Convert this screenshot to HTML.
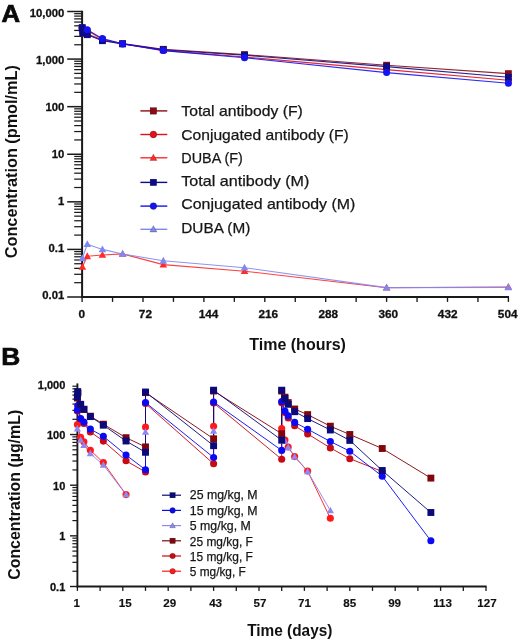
<!DOCTYPE html>
<html lang="en"><head><meta charset="utf-8"><title>Figure</title>
<style>html,body{margin:0;padding:0;background:#fff}body{width:520px;height:643px;overflow:hidden}svg{display:block}</style>
</head><body>
<svg width="520" height="643" viewBox="0 0 520 643">
<rect width="520" height="643" fill="#ffffff"/>
<g stroke="#1a1a1a" stroke-linecap="butt" fill="none">
<line x1="82.1" y1="10.8" x2="82.1" y2="297.9" stroke-width="2"/>
<line x1="81.3" y1="297.0" x2="509.00" y2="297.0" stroke-width="1.9"/>
<line x1="67.2" y1="11.50" x2="82.1" y2="11.50" stroke-width="1.5"/>
<line x1="74.2" y1="44.76" x2="82.1" y2="44.76" stroke-width="1.25"/>
<line x1="74.2" y1="36.38" x2="82.1" y2="36.38" stroke-width="1.25"/>
<line x1="74.2" y1="30.44" x2="82.1" y2="30.44" stroke-width="1.25"/>
<line x1="74.2" y1="25.82" x2="82.1" y2="25.82" stroke-width="1.25"/>
<line x1="74.2" y1="22.06" x2="82.1" y2="22.06" stroke-width="1.25"/>
<line x1="74.2" y1="18.87" x2="82.1" y2="18.87" stroke-width="1.25"/>
<line x1="74.2" y1="16.11" x2="82.1" y2="16.11" stroke-width="1.25"/>
<line x1="74.2" y1="13.68" x2="82.1" y2="13.68" stroke-width="1.25"/>
<line x1="67.2" y1="59.08" x2="82.1" y2="59.08" stroke-width="1.5"/>
<line x1="74.2" y1="92.34" x2="82.1" y2="92.34" stroke-width="1.25"/>
<line x1="74.2" y1="83.96" x2="82.1" y2="83.96" stroke-width="1.25"/>
<line x1="74.2" y1="78.02" x2="82.1" y2="78.02" stroke-width="1.25"/>
<line x1="74.2" y1="73.41" x2="82.1" y2="73.41" stroke-width="1.25"/>
<line x1="74.2" y1="69.64" x2="82.1" y2="69.64" stroke-width="1.25"/>
<line x1="74.2" y1="66.45" x2="82.1" y2="66.45" stroke-width="1.25"/>
<line x1="74.2" y1="63.69" x2="82.1" y2="63.69" stroke-width="1.25"/>
<line x1="74.2" y1="61.26" x2="82.1" y2="61.26" stroke-width="1.25"/>
<line x1="67.2" y1="106.67" x2="82.1" y2="106.67" stroke-width="1.5"/>
<line x1="74.2" y1="139.93" x2="82.1" y2="139.93" stroke-width="1.25"/>
<line x1="74.2" y1="131.55" x2="82.1" y2="131.55" stroke-width="1.25"/>
<line x1="74.2" y1="125.60" x2="82.1" y2="125.60" stroke-width="1.25"/>
<line x1="74.2" y1="120.99" x2="82.1" y2="120.99" stroke-width="1.25"/>
<line x1="74.2" y1="117.22" x2="82.1" y2="117.22" stroke-width="1.25"/>
<line x1="74.2" y1="114.04" x2="82.1" y2="114.04" stroke-width="1.25"/>
<line x1="74.2" y1="111.28" x2="82.1" y2="111.28" stroke-width="1.25"/>
<line x1="74.2" y1="108.84" x2="82.1" y2="108.84" stroke-width="1.25"/>
<line x1="67.2" y1="154.25" x2="82.1" y2="154.25" stroke-width="1.5"/>
<line x1="74.2" y1="187.51" x2="82.1" y2="187.51" stroke-width="1.25"/>
<line x1="74.2" y1="179.13" x2="82.1" y2="179.13" stroke-width="1.25"/>
<line x1="74.2" y1="173.19" x2="82.1" y2="173.19" stroke-width="1.25"/>
<line x1="74.2" y1="168.57" x2="82.1" y2="168.57" stroke-width="1.25"/>
<line x1="74.2" y1="164.81" x2="82.1" y2="164.81" stroke-width="1.25"/>
<line x1="74.2" y1="161.62" x2="82.1" y2="161.62" stroke-width="1.25"/>
<line x1="74.2" y1="158.86" x2="82.1" y2="158.86" stroke-width="1.25"/>
<line x1="74.2" y1="156.43" x2="82.1" y2="156.43" stroke-width="1.25"/>
<line x1="67.2" y1="201.83" x2="82.1" y2="201.83" stroke-width="1.5"/>
<line x1="74.2" y1="235.09" x2="82.1" y2="235.09" stroke-width="1.25"/>
<line x1="74.2" y1="226.71" x2="82.1" y2="226.71" stroke-width="1.25"/>
<line x1="74.2" y1="220.77" x2="82.1" y2="220.77" stroke-width="1.25"/>
<line x1="74.2" y1="216.16" x2="82.1" y2="216.16" stroke-width="1.25"/>
<line x1="74.2" y1="212.39" x2="82.1" y2="212.39" stroke-width="1.25"/>
<line x1="74.2" y1="209.20" x2="82.1" y2="209.20" stroke-width="1.25"/>
<line x1="74.2" y1="206.44" x2="82.1" y2="206.44" stroke-width="1.25"/>
<line x1="74.2" y1="204.01" x2="82.1" y2="204.01" stroke-width="1.25"/>
<line x1="67.2" y1="249.42" x2="82.1" y2="249.42" stroke-width="1.5"/>
<line x1="74.2" y1="282.68" x2="82.1" y2="282.68" stroke-width="1.25"/>
<line x1="74.2" y1="274.30" x2="82.1" y2="274.30" stroke-width="1.25"/>
<line x1="74.2" y1="268.35" x2="82.1" y2="268.35" stroke-width="1.25"/>
<line x1="74.2" y1="263.74" x2="82.1" y2="263.74" stroke-width="1.25"/>
<line x1="74.2" y1="259.97" x2="82.1" y2="259.97" stroke-width="1.25"/>
<line x1="74.2" y1="256.79" x2="82.1" y2="256.79" stroke-width="1.25"/>
<line x1="74.2" y1="254.03" x2="82.1" y2="254.03" stroke-width="1.25"/>
<line x1="74.2" y1="251.59" x2="82.1" y2="251.59" stroke-width="1.25"/>
<line x1="67.2" y1="297.00" x2="82.1" y2="297.00" stroke-width="1.5"/>
<line x1="82.10" y1="297.0" x2="82.10" y2="301.90" stroke-width="1.35"/>
<line x1="112.55" y1="297.0" x2="112.55" y2="301.90" stroke-width="1.35"/>
<line x1="143.00" y1="297.0" x2="143.00" y2="301.90" stroke-width="1.35"/>
<line x1="173.45" y1="297.0" x2="173.45" y2="301.90" stroke-width="1.35"/>
<line x1="203.90" y1="297.0" x2="203.90" y2="301.90" stroke-width="1.35"/>
<line x1="234.35" y1="297.0" x2="234.35" y2="301.90" stroke-width="1.35"/>
<line x1="264.80" y1="297.0" x2="264.80" y2="301.90" stroke-width="1.35"/>
<line x1="295.25" y1="297.0" x2="295.25" y2="301.90" stroke-width="1.35"/>
<line x1="325.70" y1="297.0" x2="325.70" y2="301.90" stroke-width="1.35"/>
<line x1="356.15" y1="297.0" x2="356.15" y2="301.90" stroke-width="1.35"/>
<line x1="386.60" y1="297.0" x2="386.60" y2="301.90" stroke-width="1.35"/>
<line x1="417.05" y1="297.0" x2="417.05" y2="301.90" stroke-width="1.35"/>
<line x1="447.50" y1="297.0" x2="447.50" y2="301.90" stroke-width="1.35"/>
<line x1="477.95" y1="297.0" x2="477.95" y2="301.90" stroke-width="1.35"/>
<line x1="508.40" y1="297.0" x2="508.40" y2="301.90" stroke-width="1.35"/>
</g>
<g font-family='"Liberation Sans", Arial, Helvetica, sans-serif' font-weight="700" font-size="11.3" fill="#111" stroke="#111" stroke-width="0.3">
<text x="64.3" y="16.90" text-anchor="end">10,000</text>
<text x="64.3" y="63.97" text-anchor="end">1,000</text>
<text x="64.3" y="111.04" text-anchor="end">100</text>
<text x="64.3" y="158.11" text-anchor="end">10</text>
<text x="64.3" y="205.18" text-anchor="end">1</text>
<text x="64.3" y="252.25" text-anchor="end">0.1</text>
<text x="64.3" y="299.32" text-anchor="end">0.01</text>
<text x="81.90" y="317.8" text-anchor="middle" font-size="11.8">0</text>
<text x="145.40" y="317.8" text-anchor="middle" font-size="11.8">72</text>
<text x="208.50" y="317.8" text-anchor="middle" font-size="11.8">144</text>
<text x="268.30" y="317.8" text-anchor="middle" font-size="11.8">216</text>
<text x="328.30" y="317.8" text-anchor="middle" font-size="11.8">288</text>
<text x="388.30" y="317.8" text-anchor="middle" font-size="11.8">360</text>
<text x="447.70" y="317.8" text-anchor="middle" font-size="11.8">432</text>
<text x="507.70" y="317.8" text-anchor="middle" font-size="11.8">504</text>
</g>
<polyline points="82.20,28.20 82.90,33.20 87.30,34.00 102.40,40.00 122.60,43.60 163.30,49.30 244.50,54.60 386.60,65.20 508.40,73.60" fill="none" stroke="#8B0A14" stroke-width="1.1" stroke-linejoin="round" stroke-opacity="0.9"/>
<polyline points="82.20,28.00 82.90,32.00 87.30,30.50 102.40,39.20 122.60,44.00 163.30,50.40 244.50,57.00 386.60,69.60 508.40,80.20" fill="none" stroke="#E0101C" stroke-width="1.1" stroke-linejoin="round" stroke-opacity="0.9"/>
<polyline points="82.40,267.00 87.30,256.30 102.40,255.00 122.60,253.90 163.30,264.60 244.50,271.20 386.60,287.70 508.40,287.00" fill="none" stroke="#FF2A2A" stroke-width="1.1" stroke-linejoin="round" stroke-opacity="0.9"/>
<polyline points="82.20,27.60 82.90,33.00 87.30,34.70 102.40,40.70 122.60,43.90 163.30,49.70 244.50,55.20 386.60,66.60 508.40,77.20" fill="none" stroke="#0C0C88" stroke-width="1.1" stroke-linejoin="round" stroke-opacity="0.9"/>
<polyline points="82.20,27.80 82.90,31.60 87.30,29.70 102.40,38.60 122.60,43.80 163.30,50.60 244.50,57.70 386.60,72.60 508.40,83.20" fill="none" stroke="#1414F0" stroke-width="1.1" stroke-linejoin="round" stroke-opacity="0.9"/>
<polyline points="82.40,258.30 87.30,244.20 102.40,249.40 122.60,254.00 163.30,260.80 244.50,267.70 386.60,287.60 508.40,287.40" fill="none" stroke="#8088F0" stroke-width="1.1" stroke-linejoin="round" stroke-opacity="0.9"/>
<circle cx="82.20" cy="28.00" r="3.5" fill="#E0101C"/>
<circle cx="82.90" cy="32.00" r="3.5" fill="#E0101C"/>
<rect x="78.80" y="24.80" width="6.8" height="6.8" fill="#8B0A14"/>
<rect x="79.50" y="29.80" width="6.8" height="6.8" fill="#8B0A14"/>
<circle cx="82.20" cy="27.80" r="3.5" fill="#1414F0"/>
<circle cx="82.90" cy="31.60" r="3.5" fill="#1414F0"/>
<rect x="78.80" y="24.20" width="6.8" height="6.8" fill="#0C0C88"/>
<rect x="79.50" y="29.60" width="6.8" height="6.8" fill="#0C0C88"/>
<rect x="83.90" y="30.60" width="6.8" height="6.8" fill="#8B0A14"/>
<rect x="99.00" y="36.60" width="6.8" height="6.8" fill="#8B0A14"/>
<rect x="119.20" y="40.20" width="6.8" height="6.8" fill="#8B0A14"/>
<rect x="159.90" y="45.90" width="6.8" height="6.8" fill="#8B0A14"/>
<rect x="241.10" y="51.20" width="6.8" height="6.8" fill="#8B0A14"/>
<rect x="383.20" y="61.80" width="6.8" height="6.8" fill="#8B0A14"/>
<rect x="505.00" y="70.20" width="6.8" height="6.8" fill="#8B0A14"/>
<circle cx="87.30" cy="30.50" r="3.5" fill="#E0101C"/>
<circle cx="102.40" cy="39.20" r="3.5" fill="#E0101C"/>
<circle cx="122.60" cy="44.00" r="3.5" fill="#E0101C"/>
<circle cx="163.30" cy="50.40" r="3.5" fill="#E0101C"/>
<circle cx="244.50" cy="57.00" r="3.5" fill="#E0101C"/>
<circle cx="386.60" cy="69.60" r="3.5" fill="#E0101C"/>
<circle cx="508.40" cy="80.20" r="3.5" fill="#E0101C"/>
<path d="M82.40 263.03 L86.20 269.87 L78.60 269.87 Z" fill="#FF2A2A"/>
<path d="M87.30 252.33 L91.10 259.17 L83.50 259.17 Z" fill="#FF2A2A"/>
<path d="M102.40 251.03 L106.20 257.87 L98.60 257.87 Z" fill="#FF2A2A"/>
<path d="M122.60 249.93 L126.40 256.77 L118.80 256.77 Z" fill="#FF2A2A"/>
<path d="M163.30 260.63 L167.10 267.47 L159.50 267.47 Z" fill="#FF2A2A"/>
<path d="M244.50 267.23 L248.30 274.07 L240.70 274.07 Z" fill="#FF2A2A"/>
<path d="M386.60 283.73 L390.40 290.57 L382.80 290.57 Z" fill="#FF2A2A"/>
<path d="M508.40 283.03 L512.20 289.87 L504.60 289.87 Z" fill="#FF2A2A"/>
<rect x="83.90" y="31.30" width="6.8" height="6.8" fill="#0C0C88"/>
<rect x="99.00" y="37.30" width="6.8" height="6.8" fill="#0C0C88"/>
<rect x="119.20" y="40.50" width="6.8" height="6.8" fill="#0C0C88"/>
<rect x="159.90" y="46.30" width="6.8" height="6.8" fill="#0C0C88"/>
<rect x="241.10" y="51.80" width="6.8" height="6.8" fill="#0C0C88"/>
<rect x="383.20" y="63.20" width="6.8" height="6.8" fill="#0C0C88"/>
<rect x="505.00" y="73.80" width="6.8" height="6.8" fill="#0C0C88"/>
<circle cx="87.30" cy="29.70" r="3.5" fill="#1414F0"/>
<circle cx="102.40" cy="38.60" r="3.5" fill="#1414F0"/>
<circle cx="122.60" cy="43.80" r="3.5" fill="#1414F0"/>
<circle cx="163.30" cy="50.60" r="3.5" fill="#1414F0"/>
<circle cx="244.50" cy="57.70" r="3.5" fill="#1414F0"/>
<circle cx="386.60" cy="72.60" r="3.5" fill="#1414F0"/>
<circle cx="508.40" cy="83.20" r="3.5" fill="#1414F0"/>
<path d="M82.40 254.33 L86.20 261.17 L78.60 261.17 Z" fill="#8088F0"/>
<path d="M87.30 240.23 L91.10 247.07 L83.50 247.07 Z" fill="#8088F0"/>
<path d="M102.40 245.43 L106.20 252.27 L98.60 252.27 Z" fill="#8088F0"/>
<path d="M122.60 250.03 L126.40 256.87 L118.80 256.87 Z" fill="#8088F0"/>
<path d="M163.30 256.83 L167.10 263.67 L159.50 263.67 Z" fill="#8088F0"/>
<path d="M244.50 263.73 L248.30 270.57 L240.70 270.57 Z" fill="#8088F0"/>
<path d="M386.60 283.63 L390.40 290.47 L382.80 290.47 Z" fill="#8088F0"/>
<path d="M508.40 283.43 L512.20 290.27 L504.60 290.27 Z" fill="#8088F0"/>
<g font-family='"Liberation Sans", Arial, Helvetica, sans-serif' font-size="15" fill="#161616" stroke="#161616" stroke-width="0.25">
<line x1="140.4" y1="110.90" x2="167.3" y2="110.90" stroke="#8B0A14" stroke-width="1.4"/>
<rect x="150.10" y="107.60" width="6.6" height="6.6" fill="#8B0A14"/>
<text x="181.3" y="116.30" textLength="121.5" lengthAdjust="spacingAndGlyphs">Total antibody (F)</text>
<line x1="140.4" y1="134.50" x2="167.3" y2="134.50" stroke="#E0101C" stroke-width="1.4"/>
<circle cx="153.40" cy="134.50" r="3.4" fill="#E0101C"/>
<text x="181.3" y="139.80" textLength="167.5" lengthAdjust="spacingAndGlyphs">Conjugated antibody (F)</text>
<line x1="140.4" y1="157.80" x2="167.3" y2="157.80" stroke="#FF2A2A" stroke-width="1.4"/>
<path d="M153.40 154.15 L156.90 160.45 L149.90 160.45 Z" fill="#FF2A2A"/>
<text x="181.3" y="162.90" textLength="61.5" lengthAdjust="spacingAndGlyphs">DUBA (F)</text>
<line x1="140.4" y1="182.40" x2="167.3" y2="182.40" stroke="#0C0C88" stroke-width="1.4"/>
<rect x="150.10" y="179.10" width="6.6" height="6.6" fill="#0C0C88"/>
<text x="181.3" y="185.70" textLength="128" lengthAdjust="spacingAndGlyphs">Total antibody (M)</text>
<line x1="140.4" y1="206.10" x2="167.3" y2="206.10" stroke="#1414F0" stroke-width="1.4"/>
<circle cx="153.40" cy="206.10" r="3.4" fill="#1414F0"/>
<text x="181.3" y="208.80" textLength="174" lengthAdjust="spacingAndGlyphs">Conjugated antibody (M)</text>
<line x1="140.4" y1="229.30" x2="167.3" y2="229.30" stroke="#8088F0" stroke-width="1.4"/>
<path d="M153.40 225.65 L156.90 231.95 L149.90 231.95 Z" fill="#8088F0"/>
<text x="181.3" y="232.50" textLength="69" lengthAdjust="spacingAndGlyphs">DUBA (M)</text>
</g>
<g font-family='"Liberation Sans", Arial, Helvetica, sans-serif' font-weight="700" font-size="16" fill="#111">
<text transform="translate(16.8 258.2) rotate(-90)" textLength="193" lengthAdjust="spacingAndGlyphs">Concentration (pmol/mL)</text>
<text x="249.3" y="350" textLength="96.6" lengthAdjust="spacingAndGlyphs">Time (hours)</text>
</g>
<text x="1.4" y="21.7" font-family='"Liberation Sans", Arial, Helvetica, sans-serif' font-weight="700" font-size="23" fill="#0a0a0a" stroke="#0a0a0a" stroke-width="0.7" textLength="18.6" lengthAdjust="spacingAndGlyphs">A</text>
<text x="1.2" y="364.9" font-family='"Liberation Sans", Arial, Helvetica, sans-serif' font-weight="700" font-size="24" fill="#0a0a0a" stroke="#0a0a0a" stroke-width="0.7" textLength="19" lengthAdjust="spacingAndGlyphs">B</text>
<g stroke="#1a1a1a" stroke-linecap="butt" fill="none">
<line x1="77.4" y1="383.4" x2="77.4" y2="587.35" stroke-width="1.9"/>
<line x1="76.7" y1="586.5" x2="486.60" y2="586.5" stroke-width="1.8"/>
<line x1="72.4" y1="419.30" x2="77.4" y2="419.30" stroke-width="1.2"/>
<line x1="72.4" y1="410.38" x2="77.4" y2="410.38" stroke-width="1.2"/>
<line x1="72.4" y1="404.06" x2="77.4" y2="404.06" stroke-width="1.2"/>
<line x1="72.4" y1="399.15" x2="77.4" y2="399.15" stroke-width="1.2"/>
<line x1="72.4" y1="395.14" x2="77.4" y2="395.14" stroke-width="1.2"/>
<line x1="72.4" y1="391.75" x2="77.4" y2="391.75" stroke-width="1.2"/>
<line x1="72.4" y1="388.81" x2="77.4" y2="388.81" stroke-width="1.2"/>
<line x1="72.4" y1="386.22" x2="77.4" y2="386.22" stroke-width="1.2"/>
<line x1="70" y1="434.55" x2="77.4" y2="434.55" stroke-width="1.4"/>
<line x1="72.4" y1="469.95" x2="77.4" y2="469.95" stroke-width="1.2"/>
<line x1="72.4" y1="461.03" x2="77.4" y2="461.03" stroke-width="1.2"/>
<line x1="72.4" y1="454.71" x2="77.4" y2="454.71" stroke-width="1.2"/>
<line x1="72.4" y1="449.80" x2="77.4" y2="449.80" stroke-width="1.2"/>
<line x1="72.4" y1="445.79" x2="77.4" y2="445.79" stroke-width="1.2"/>
<line x1="72.4" y1="442.40" x2="77.4" y2="442.40" stroke-width="1.2"/>
<line x1="72.4" y1="439.46" x2="77.4" y2="439.46" stroke-width="1.2"/>
<line x1="72.4" y1="436.87" x2="77.4" y2="436.87" stroke-width="1.2"/>
<line x1="70" y1="485.20" x2="77.4" y2="485.20" stroke-width="1.4"/>
<line x1="72.4" y1="520.60" x2="77.4" y2="520.60" stroke-width="1.2"/>
<line x1="72.4" y1="511.68" x2="77.4" y2="511.68" stroke-width="1.2"/>
<line x1="72.4" y1="505.36" x2="77.4" y2="505.36" stroke-width="1.2"/>
<line x1="72.4" y1="500.45" x2="77.4" y2="500.45" stroke-width="1.2"/>
<line x1="72.4" y1="496.44" x2="77.4" y2="496.44" stroke-width="1.2"/>
<line x1="72.4" y1="493.05" x2="77.4" y2="493.05" stroke-width="1.2"/>
<line x1="72.4" y1="490.11" x2="77.4" y2="490.11" stroke-width="1.2"/>
<line x1="72.4" y1="487.52" x2="77.4" y2="487.52" stroke-width="1.2"/>
<line x1="70" y1="535.85" x2="77.4" y2="535.85" stroke-width="1.4"/>
<line x1="72.4" y1="571.25" x2="77.4" y2="571.25" stroke-width="1.2"/>
<line x1="72.4" y1="562.33" x2="77.4" y2="562.33" stroke-width="1.2"/>
<line x1="72.4" y1="556.01" x2="77.4" y2="556.01" stroke-width="1.2"/>
<line x1="72.4" y1="551.10" x2="77.4" y2="551.10" stroke-width="1.2"/>
<line x1="72.4" y1="547.09" x2="77.4" y2="547.09" stroke-width="1.2"/>
<line x1="72.4" y1="543.70" x2="77.4" y2="543.70" stroke-width="1.2"/>
<line x1="72.4" y1="540.76" x2="77.4" y2="540.76" stroke-width="1.2"/>
<line x1="72.4" y1="538.17" x2="77.4" y2="538.17" stroke-width="1.2"/>
<line x1="70" y1="586.50" x2="77.4" y2="586.50" stroke-width="1.4"/>
<line x1="77.40" y1="586.5" x2="77.40" y2="590.90" stroke-width="1.3"/>
<line x1="100.10" y1="586.5" x2="100.10" y2="590.90" stroke-width="1.3"/>
<line x1="122.80" y1="586.5" x2="122.80" y2="590.90" stroke-width="1.3"/>
<line x1="145.50" y1="586.5" x2="145.50" y2="590.90" stroke-width="1.3"/>
<line x1="168.20" y1="586.5" x2="168.20" y2="590.90" stroke-width="1.3"/>
<line x1="190.90" y1="586.5" x2="190.90" y2="590.90" stroke-width="1.3"/>
<line x1="213.60" y1="586.5" x2="213.60" y2="590.90" stroke-width="1.3"/>
<line x1="236.30" y1="586.5" x2="236.30" y2="590.90" stroke-width="1.3"/>
<line x1="259.00" y1="586.5" x2="259.00" y2="590.90" stroke-width="1.3"/>
<line x1="281.70" y1="586.5" x2="281.70" y2="590.90" stroke-width="1.3"/>
<line x1="304.40" y1="586.5" x2="304.40" y2="590.90" stroke-width="1.3"/>
<line x1="327.10" y1="586.5" x2="327.10" y2="590.90" stroke-width="1.3"/>
<line x1="349.80" y1="586.5" x2="349.80" y2="590.90" stroke-width="1.3"/>
<line x1="372.50" y1="586.5" x2="372.50" y2="590.90" stroke-width="1.3"/>
<line x1="395.20" y1="586.5" x2="395.20" y2="590.90" stroke-width="1.3"/>
<line x1="417.90" y1="586.5" x2="417.90" y2="590.90" stroke-width="1.3"/>
<line x1="440.60" y1="586.5" x2="440.60" y2="590.90" stroke-width="1.3"/>
<line x1="463.30" y1="586.5" x2="463.30" y2="590.90" stroke-width="1.3"/>
<line x1="486.00" y1="586.5" x2="486.00" y2="590.90" stroke-width="1.3"/>
</g>
<g font-family='"Liberation Sans", Arial, Helvetica, sans-serif' font-weight="700" font-size="11" fill="#111" stroke="#111" stroke-width="0.3">
<text x="65.3" y="388.95" text-anchor="end">1,000</text>
<text x="65.3" y="439.35" text-anchor="end">100</text>
<text x="65.3" y="489.75" text-anchor="end">10</text>
<text x="65.3" y="540.15" text-anchor="end">1</text>
<text x="65.3" y="590.55" text-anchor="end">0.1</text>
<text x="76.80" y="606.7" text-anchor="middle" font-size="11.6" stroke-width="0.15">1</text>
<text x="125.20" y="606.7" text-anchor="middle" font-size="11.6" stroke-width="0.15">15</text>
<text x="169.70" y="606.7" text-anchor="middle" font-size="11.6" stroke-width="0.15">29</text>
<text x="215.60" y="606.7" text-anchor="middle" font-size="11.6" stroke-width="0.15">43</text>
<text x="260.00" y="606.7" text-anchor="middle" font-size="11.6" stroke-width="0.15">57</text>
<text x="304.40" y="606.7" text-anchor="middle" font-size="11.6" stroke-width="0.15">71</text>
<text x="349.70" y="606.7" text-anchor="middle" font-size="11.6" stroke-width="0.15">85</text>
<text x="394.60" y="606.7" text-anchor="middle" font-size="11.6" stroke-width="0.15">99</text>
<text x="442.50" y="606.7" text-anchor="middle" font-size="11.6" stroke-width="0.15">113</text>
<text x="487.00" y="606.7" text-anchor="middle" font-size="11.6" stroke-width="0.15">127</text>
</g>
<polyline points="77.40,424.50 80.64,437.40 83.89,441.80 90.37,450.20 103.34,462.60 126.04,494.60" fill="none" stroke="#FF1A1A" stroke-width="1.0" stroke-linejoin="round" stroke-opacity="0.92"/>
<polyline points="281.70,428.50 284.94,440.00 288.19,447.00 294.67,456.60 307.64,471.00 330.34,518.30" fill="none" stroke="#FF1A1A" stroke-width="1.0" stroke-linejoin="round" stroke-opacity="0.92"/>
<polyline points="77.40,428.80 80.64,440.00 83.89,445.20 90.37,453.60 103.34,465.00 126.04,494.60" fill="none" stroke="#9088F0" stroke-width="1.0" stroke-linejoin="round" stroke-opacity="0.92"/>
<polyline points="281.70,433.60 284.94,441.00 288.19,447.60 294.67,456.80 307.64,471.50 330.34,510.60" fill="none" stroke="#9088F0" stroke-width="1.0" stroke-linejoin="round" stroke-opacity="0.92"/>
<polyline points="77.40,411.00 77.89,406.50 80.64,419.00 83.89,423.50 90.37,431.90 103.34,441.10 126.04,460.80 145.50,472.00 145.50,403.50 213.60,463.80 213.60,403.00 281.70,459.30 281.70,402.80 284.94,412.50 288.19,418.00 294.67,425.80 307.64,433.90 330.34,447.90 349.80,458.70 382.23,471.50" fill="none" stroke="#C80A12" stroke-width="1.0" stroke-linejoin="round" stroke-opacity="0.92"/>
<polyline points="77.40,410.00 77.89,405.50 80.64,418.50 83.89,422.00 90.37,429.10 103.34,436.30 126.04,455.00 145.50,469.80 145.50,402.50 213.60,457.50 213.60,402.00 281.70,450.40 281.70,401.60 284.94,411.00 288.19,415.70 294.67,422.40 307.64,429.20 330.34,441.50 349.80,451.20 382.23,476.20 430.87,540.80" fill="none" stroke="#0A0AF5" stroke-width="1.0" stroke-linejoin="round" stroke-opacity="0.92"/>
<polyline points="77.40,398.00 77.89,393.00 80.64,404.80 83.89,409.50 90.37,416.20 103.34,424.20 126.04,437.70 145.50,446.90 145.50,392.60 213.60,438.80 213.60,391.00 281.70,433.70 281.70,391.00 284.94,397.20 288.19,402.60 294.67,409.00 307.64,414.60 330.34,426.20 349.80,434.50 382.23,448.50 430.87,478.10" fill="none" stroke="#80060C" stroke-width="1.0" stroke-linejoin="round" stroke-opacity="0.92"/>
<polyline points="77.40,397.00 77.72,391.60 80.64,404.30 83.89,409.20 90.37,416.60 103.34,425.20 126.04,441.00 145.50,452.30 145.50,392.00 213.60,445.70 213.60,390.20 281.70,440.20 281.70,390.20 284.94,398.50 288.19,404.30 294.67,411.70 307.64,418.60 330.34,430.00 349.80,440.40 382.23,470.50 430.87,512.50" fill="none" stroke="#0A0A7A" stroke-width="1.0" stroke-linejoin="round" stroke-opacity="0.92"/>
<circle cx="77.40" cy="424.50" r="3.55" fill="#FF1A1A"/>
<circle cx="80.64" cy="437.40" r="3.55" fill="#FF1A1A"/>
<circle cx="83.89" cy="441.80" r="3.55" fill="#FF1A1A"/>
<circle cx="90.37" cy="450.20" r="3.55" fill="#FF1A1A"/>
<circle cx="103.34" cy="462.60" r="3.55" fill="#FF1A1A"/>
<circle cx="126.04" cy="494.60" r="3.55" fill="#FF1A1A"/>
<circle cx="281.70" cy="428.50" r="3.55" fill="#FF1A1A"/>
<circle cx="284.94" cy="440.00" r="3.55" fill="#FF1A1A"/>
<circle cx="288.19" cy="447.00" r="3.55" fill="#FF1A1A"/>
<circle cx="294.67" cy="456.60" r="3.55" fill="#FF1A1A"/>
<circle cx="307.64" cy="471.00" r="3.55" fill="#FF1A1A"/>
<circle cx="330.34" cy="518.30" r="3.55" fill="#FF1A1A"/>
<circle cx="145.50" cy="427.00" r="3.55" fill="#FF1A1A"/>
<circle cx="213.60" cy="426.20" r="3.55" fill="#FF1A1A"/>
<path d="M77.40 425.04 L81.00 431.52 L73.80 431.52 Z" fill="#9088F0"/>
<path d="M80.64 436.24 L84.24 442.72 L77.04 442.72 Z" fill="#9088F0"/>
<path d="M83.89 441.44 L87.49 447.92 L80.29 447.92 Z" fill="#9088F0"/>
<path d="M90.37 449.84 L93.97 456.32 L86.77 456.32 Z" fill="#9088F0"/>
<path d="M103.34 461.24 L106.94 467.72 L99.74 467.72 Z" fill="#9088F0"/>
<path d="M126.04 490.84 L129.64 497.32 L122.44 497.32 Z" fill="#9088F0"/>
<path d="M281.70 429.84 L285.30 436.32 L278.10 436.32 Z" fill="#9088F0"/>
<path d="M284.94 437.24 L288.54 443.72 L281.34 443.72 Z" fill="#9088F0"/>
<path d="M288.19 443.84 L291.79 450.32 L284.59 450.32 Z" fill="#9088F0"/>
<path d="M294.67 453.04 L298.27 459.52 L291.07 459.52 Z" fill="#9088F0"/>
<path d="M307.64 467.74 L311.24 474.22 L304.04 474.22 Z" fill="#9088F0"/>
<path d="M330.34 506.84 L333.94 513.32 L326.74 513.32 Z" fill="#9088F0"/>
<path d="M145.50 428.24 L149.10 434.72 L141.90 434.72 Z" fill="#9088F0"/>
<path d="M213.60 427.24 L217.20 433.72 L210.00 433.72 Z" fill="#9088F0"/>
<circle cx="77.40" cy="411.00" r="3.55" fill="#C80A12"/>
<circle cx="77.89" cy="406.50" r="3.55" fill="#C80A12"/>
<circle cx="80.64" cy="419.00" r="3.55" fill="#C80A12"/>
<circle cx="83.89" cy="423.50" r="3.55" fill="#C80A12"/>
<circle cx="90.37" cy="431.90" r="3.55" fill="#C80A12"/>
<circle cx="103.34" cy="441.10" r="3.55" fill="#C80A12"/>
<circle cx="126.04" cy="460.80" r="3.55" fill="#C80A12"/>
<circle cx="145.50" cy="472.00" r="3.55" fill="#C80A12"/>
<circle cx="145.50" cy="403.50" r="3.55" fill="#C80A12"/>
<circle cx="213.60" cy="463.80" r="3.55" fill="#C80A12"/>
<circle cx="213.60" cy="403.00" r="3.55" fill="#C80A12"/>
<circle cx="281.70" cy="459.30" r="3.55" fill="#C80A12"/>
<circle cx="281.70" cy="402.80" r="3.55" fill="#C80A12"/>
<circle cx="284.94" cy="412.50" r="3.55" fill="#C80A12"/>
<circle cx="288.19" cy="418.00" r="3.55" fill="#C80A12"/>
<circle cx="294.67" cy="425.80" r="3.55" fill="#C80A12"/>
<circle cx="307.64" cy="433.90" r="3.55" fill="#C80A12"/>
<circle cx="330.34" cy="447.90" r="3.55" fill="#C80A12"/>
<circle cx="349.80" cy="458.70" r="3.55" fill="#C80A12"/>
<circle cx="382.23" cy="471.50" r="3.55" fill="#C80A12"/>
<circle cx="77.40" cy="410.00" r="3.55" fill="#0A0AF5"/>
<circle cx="77.89" cy="405.50" r="3.55" fill="#0A0AF5"/>
<circle cx="80.64" cy="418.50" r="3.55" fill="#0A0AF5"/>
<circle cx="83.89" cy="422.00" r="3.55" fill="#0A0AF5"/>
<circle cx="90.37" cy="429.10" r="3.55" fill="#0A0AF5"/>
<circle cx="103.34" cy="436.30" r="3.55" fill="#0A0AF5"/>
<circle cx="126.04" cy="455.00" r="3.55" fill="#0A0AF5"/>
<circle cx="145.50" cy="469.80" r="3.55" fill="#0A0AF5"/>
<circle cx="145.50" cy="402.50" r="3.55" fill="#0A0AF5"/>
<circle cx="213.60" cy="457.50" r="3.55" fill="#0A0AF5"/>
<circle cx="213.60" cy="402.00" r="3.55" fill="#0A0AF5"/>
<circle cx="281.70" cy="450.40" r="3.55" fill="#0A0AF5"/>
<circle cx="281.70" cy="401.60" r="3.55" fill="#0A0AF5"/>
<circle cx="284.94" cy="411.00" r="3.55" fill="#0A0AF5"/>
<circle cx="288.19" cy="415.70" r="3.55" fill="#0A0AF5"/>
<circle cx="294.67" cy="422.40" r="3.55" fill="#0A0AF5"/>
<circle cx="307.64" cy="429.20" r="3.55" fill="#0A0AF5"/>
<circle cx="330.34" cy="441.50" r="3.55" fill="#0A0AF5"/>
<circle cx="349.80" cy="451.20" r="3.55" fill="#0A0AF5"/>
<circle cx="382.23" cy="476.20" r="3.55" fill="#0A0AF5"/>
<circle cx="430.87" cy="540.80" r="3.55" fill="#0A0AF5"/>
<rect x="73.95" y="394.55" width="6.9" height="6.9" fill="#80060C"/>
<rect x="74.44" y="389.55" width="6.9" height="6.9" fill="#80060C"/>
<rect x="77.19" y="401.35" width="6.9" height="6.9" fill="#80060C"/>
<rect x="80.44" y="406.05" width="6.9" height="6.9" fill="#80060C"/>
<rect x="86.92" y="412.75" width="6.9" height="6.9" fill="#80060C"/>
<rect x="99.89" y="420.75" width="6.9" height="6.9" fill="#80060C"/>
<rect x="122.59" y="434.25" width="6.9" height="6.9" fill="#80060C"/>
<rect x="142.05" y="443.45" width="6.9" height="6.9" fill="#80060C"/>
<rect x="142.05" y="389.15" width="6.9" height="6.9" fill="#80060C"/>
<rect x="210.15" y="435.35" width="6.9" height="6.9" fill="#80060C"/>
<rect x="210.15" y="387.55" width="6.9" height="6.9" fill="#80060C"/>
<rect x="278.25" y="430.25" width="6.9" height="6.9" fill="#80060C"/>
<rect x="278.25" y="387.55" width="6.9" height="6.9" fill="#80060C"/>
<rect x="281.49" y="393.75" width="6.9" height="6.9" fill="#80060C"/>
<rect x="284.74" y="399.15" width="6.9" height="6.9" fill="#80060C"/>
<rect x="291.22" y="405.55" width="6.9" height="6.9" fill="#80060C"/>
<rect x="304.19" y="411.15" width="6.9" height="6.9" fill="#80060C"/>
<rect x="326.89" y="422.75" width="6.9" height="6.9" fill="#80060C"/>
<rect x="346.35" y="431.05" width="6.9" height="6.9" fill="#80060C"/>
<rect x="378.78" y="445.05" width="6.9" height="6.9" fill="#80060C"/>
<rect x="427.42" y="474.65" width="6.9" height="6.9" fill="#80060C"/>
<rect x="73.95" y="393.55" width="6.9" height="6.9" fill="#0A0A7A"/>
<rect x="74.27" y="388.15" width="6.9" height="6.9" fill="#0A0A7A"/>
<rect x="77.19" y="400.85" width="6.9" height="6.9" fill="#0A0A7A"/>
<rect x="80.44" y="405.75" width="6.9" height="6.9" fill="#0A0A7A"/>
<rect x="86.92" y="413.15" width="6.9" height="6.9" fill="#0A0A7A"/>
<rect x="99.89" y="421.75" width="6.9" height="6.9" fill="#0A0A7A"/>
<rect x="122.59" y="437.55" width="6.9" height="6.9" fill="#0A0A7A"/>
<rect x="142.05" y="448.85" width="6.9" height="6.9" fill="#0A0A7A"/>
<rect x="142.05" y="388.55" width="6.9" height="6.9" fill="#0A0A7A"/>
<rect x="210.15" y="442.25" width="6.9" height="6.9" fill="#0A0A7A"/>
<rect x="210.15" y="386.75" width="6.9" height="6.9" fill="#0A0A7A"/>
<rect x="278.25" y="436.75" width="6.9" height="6.9" fill="#0A0A7A"/>
<rect x="278.25" y="386.75" width="6.9" height="6.9" fill="#0A0A7A"/>
<rect x="281.49" y="395.05" width="6.9" height="6.9" fill="#0A0A7A"/>
<rect x="284.74" y="400.85" width="6.9" height="6.9" fill="#0A0A7A"/>
<rect x="291.22" y="408.25" width="6.9" height="6.9" fill="#0A0A7A"/>
<rect x="304.19" y="415.15" width="6.9" height="6.9" fill="#0A0A7A"/>
<rect x="326.89" y="426.55" width="6.9" height="6.9" fill="#0A0A7A"/>
<rect x="346.35" y="436.95" width="6.9" height="6.9" fill="#0A0A7A"/>
<rect x="378.78" y="467.05" width="6.9" height="6.9" fill="#0A0A7A"/>
<rect x="427.42" y="509.05" width="6.9" height="6.9" fill="#0A0A7A"/>
<g font-family='"Liberation Sans", Arial, Helvetica, sans-serif' font-size="13" fill="#161616" stroke="#161616" stroke-width="0.25">
<line x1="162" y1="495.20" x2="181" y2="495.20" stroke="#0A0A7A" stroke-width="1.2"/>
<rect x="169.90" y="492.50" width="5.4" height="5.4" fill="#0A0A7A"/>
<text x="189.8" y="499.20" textLength="67.8" lengthAdjust="spacingAndGlyphs">25 mg/kg, M</text>
<line x1="162" y1="510.40" x2="181" y2="510.40" stroke="#0A0AF5" stroke-width="1.2"/>
<circle cx="172.60" cy="510.40" r="2.8" fill="#0A0AF5"/>
<text x="189.8" y="514.65" textLength="67.8" lengthAdjust="spacingAndGlyphs">15 mg/kg, M</text>
<line x1="162" y1="525.60" x2="181" y2="525.60" stroke="#9088F0" stroke-width="1.2"/>
<path d="M172.60 522.68 L175.40 527.72 L169.80 527.72 Z" fill="#9088F0"/>
<text x="189.8" y="530.10" textLength="61" lengthAdjust="spacingAndGlyphs">5 mg/kg, M</text>
<line x1="162" y1="540.80" x2="181" y2="540.80" stroke="#80060C" stroke-width="1.2"/>
<rect x="169.90" y="538.10" width="5.4" height="5.4" fill="#80060C"/>
<text x="189.8" y="545.55" textLength="63" lengthAdjust="spacingAndGlyphs">25 mg/kg, F</text>
<line x1="162" y1="556.00" x2="181" y2="556.00" stroke="#C80A12" stroke-width="1.2"/>
<circle cx="172.60" cy="556.00" r="2.8" fill="#C80A12"/>
<text x="189.8" y="561.00" textLength="63" lengthAdjust="spacingAndGlyphs">15 mg/kg, F</text>
<line x1="162" y1="571.20" x2="181" y2="571.20" stroke="#FF1A1A" stroke-width="1.2"/>
<circle cx="172.60" cy="571.20" r="2.8" fill="#FF1A1A"/>
<text x="189.8" y="576.45" textLength="56" lengthAdjust="spacingAndGlyphs">5 mg/kg, F</text>
</g>
<g font-family='"Liberation Sans", Arial, Helvetica, sans-serif' font-weight="700" font-size="16" fill="#111">
<text transform="translate(20.4 579.8) rotate(-90)" textLength="170" lengthAdjust="spacingAndGlyphs">Concentration (µg/mL)</text>
<text x="247.2" y="635.8" textLength="85.2" lengthAdjust="spacingAndGlyphs">Time (days)</text>
</g>
</svg>
</body></html>
